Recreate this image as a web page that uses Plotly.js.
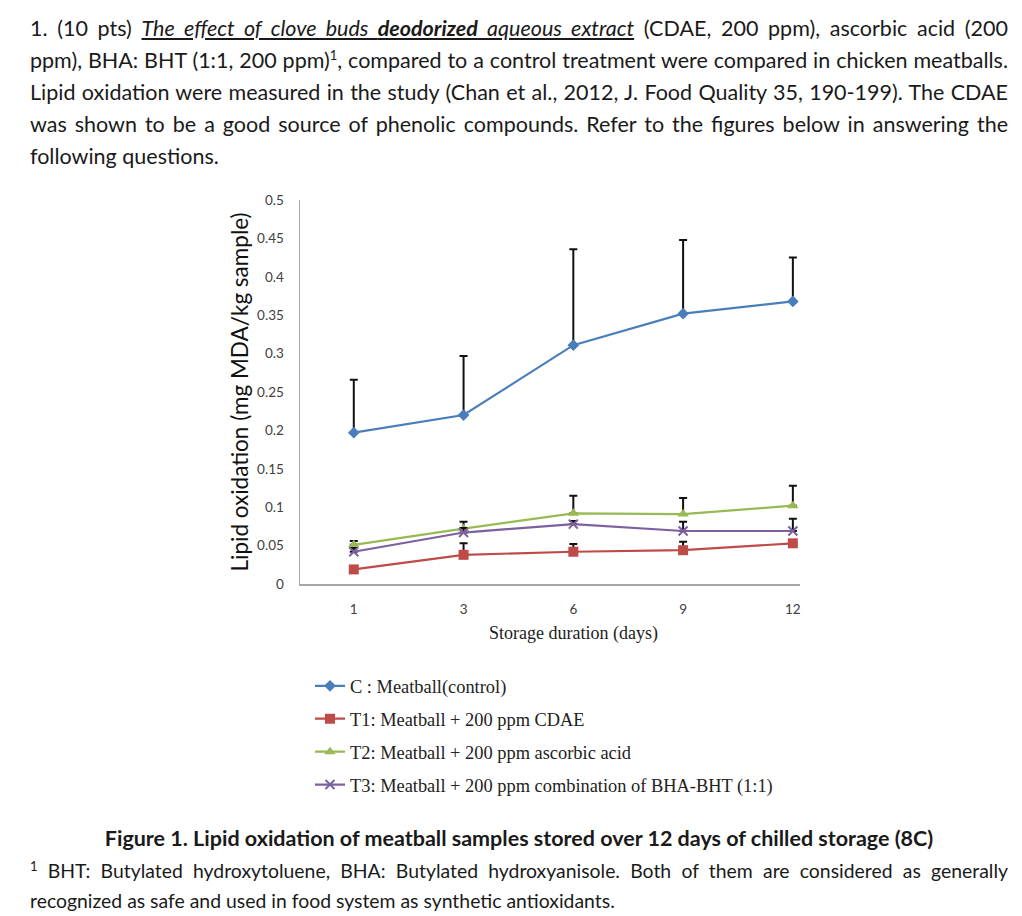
<!DOCTYPE html>
<html>
<head>
<meta charset="utf-8">
<script src="https://cdn.plot.ly/plotly-3.0.1.min.js"></script>
<style>
  html, body { margin:0; padding:0; background:#fff; }
  #wrap { position:relative; width:1022px; height:916px; overflow:hidden; }
  #chart { position:absolute; left:0; top:0; width:1022px; height:916px; }
  .txt { position:absolute; left:30px; width:978px; font-family:Lato, "Noto Sans", sans-serif; color:#1a1a1a; font-size:21.5px; pointer-events:none; }
  .j { text-align:justify; text-align-last:justify; white-space:nowrap; }
  .l { text-align:left; white-space:nowrap; }
  sup { font-size:13px; line-height:0; }
</style>
</head>
<body>
<div id="wrap">
  <div id="chart"></div>
  <div class="txt" style="top:12px; line-height:32px;">
    <div class="j">1. (10 pts) <i><u>The effect of clove buds <b>deodorized</b> aqueous extract</u></i> (CDAE, 200 ppm), ascorbic acid (200</div>
    <div class="j">ppm), BHA: BHT (1:1, 200 ppm)<sup>1</sup>, compared to a control treatment were compared in chicken meatballs.</div>
    <div class="j">Lipid oxidation were measured in the study (Chan et al., 2012, J. Food Quality 35, 190-199). The CDAE</div>
    <div class="j">was shown to be a good source of phenolic compounds. Refer to the figures below in answering the</div>
    <div class="l">following questions.</div>
  </div>
  <div class="txt" style="top:822px; line-height:32px; text-align:center; font-weight:bold; font-size:21.5px;">Figure 1. Lipid oxidation of meatball samples stored over 12 days of chilled storage (8C)</div>
  <div class="txt" style="top:856px; line-height:30px; font-size:19.4px;">
    <div class="j"><sup>1</sup> BHT: Butylated hydroxytoluene, BHA: Butylated hydroxyanisole. Both of them are considered as generally</div>
    <div class="l">recognized as safe and used in food system as synthetic antioxidants.</div>
  </div>
</div>
<script>
// Data
const days = ["1", "3", "6", "9", "12"];
const seriesNames = [
  "C : Meatball(control)",
  "T1: Meatball + 200 ppm CDAE",
  "T2: Meatball + 200 ppm ascorbic acid",
  "T3: Meatball + 200 ppm combination of BHA-BHT (1:1)"
];
const control = [0.197, 0.220, 0.311, 0.352, 0.368];
const controlErr = [0.069, 0.077, 0.125, 0.096, 0.057];
const t1 = [0.019, 0.038, 0.042, 0.044, 0.053];
const t1Err = [0.003, 0.015, 0.010, 0.011, 0.004];
const t2 = [0.051, 0.072, 0.092, 0.091, 0.102];
const t2Err = [0.005, 0.009, 0.023, 0.021, 0.026];
const t3 = [0.042, 0.067, 0.078, 0.069, 0.069];
const t3Err = [0.005, 0.006, 0.004, 0.012, 0.016];

const colors = ["#4a7ebb", "#be4b48", "#98b954", "#7d60a0"];
const symbols = ["diamond", "square", "triangle-up", "x-thin-open"];
const sizes = [9, 10, 10, 9];
const vals = [control, t1, t2, t3];
const errs = [controlErr, t1Err, t2Err, t3Err];

const traces = vals.map((v, i) => ({
  type: "scatter",
  mode: "lines+markers",
  x: days,
  y: v,
  name: seriesNames[i],
  legendgroup: "g" + i,
  line: { color: colors[i], width: 2.2 },
  marker: { symbol: symbols[i], size: sizes[i], color: colors[i], line: { color: colors[i], width: i === 3 ? 2 : 0 } },
  error_y: { type: "data", symmetric: false, array: errs[i], arrayminus: errs[i].map(() => 0), color: "#111", thickness: 2, width: 4 }
}));

const layout = {
  width: 1022, height: 916,
  margin: { l: 300, r: 222, t: 200, b: 332 },
  paper_bgcolor: "#fff", plot_bgcolor: "#fff",
  showlegend: true,
  xaxis: {
    type: "category",
    range: [-0.49, 4.065],
    showgrid: false, zeroline: false,
    showline: true, linecolor: "#a6a6a6", linewidth: 2,
    ticks: "", ticklabelstandoff: 12,
    tickfont: { family: "Lato, sans-serif", size: 13.5, color: "#404040" },
    fixedrange: true
  },
  yaxis: {
    range: [0, 0.5],
    tickvals: [0, 0.05, 0.1, 0.15, 0.2, 0.25, 0.3, 0.35, 0.4, 0.45, 0.5],
    ticktext: ["0", "0.05", "0.1", "0.15", "0.2", "0.25", "0.3", "0.35", "0.4", "0.45", "0.5"],
    showgrid: false, zeroline: false,
    showline: true, linecolor: "#a6a6a6", linewidth: 1.5,
    ticks: "", ticklabelstandoff: 12,
    tickfont: { family: "Lato, sans-serif", size: 13.5, color: "#404040" },
    title: { text: "Lipid oxidation (mg MDA/kg sample)", font: { family: "Lato, 'Noto Sans', sans-serif", size: 22.5, color: "#111" }, standoff: 2 },
    fixedrange: true
  },
  annotations: [{
    text: "Storage duration (days)",
    xref: "paper", yref: "paper",
    x: 0.546, y: -0.13, xanchor: "center", yanchor: "middle",
    showarrow: false,
    font: { family: "Liberation Serif, serif", size: 18, color: "#222" }
  }],
  legend: {
    x: 0.02, xanchor: "left",
    y: -0.217, yanchor: "top",
    traceorder: "grouped",
    tracegroupgap: 6,
    font: { family: "Liberation Serif, serif", size: 18.4, color: "#222" },
    bgcolor: "rgba(0,0,0,0)",
    itemwidth: 30
  }
};

Plotly.newPlot("chart", traces, layout, { staticPlot: true });
</script>
</body>
</html>
